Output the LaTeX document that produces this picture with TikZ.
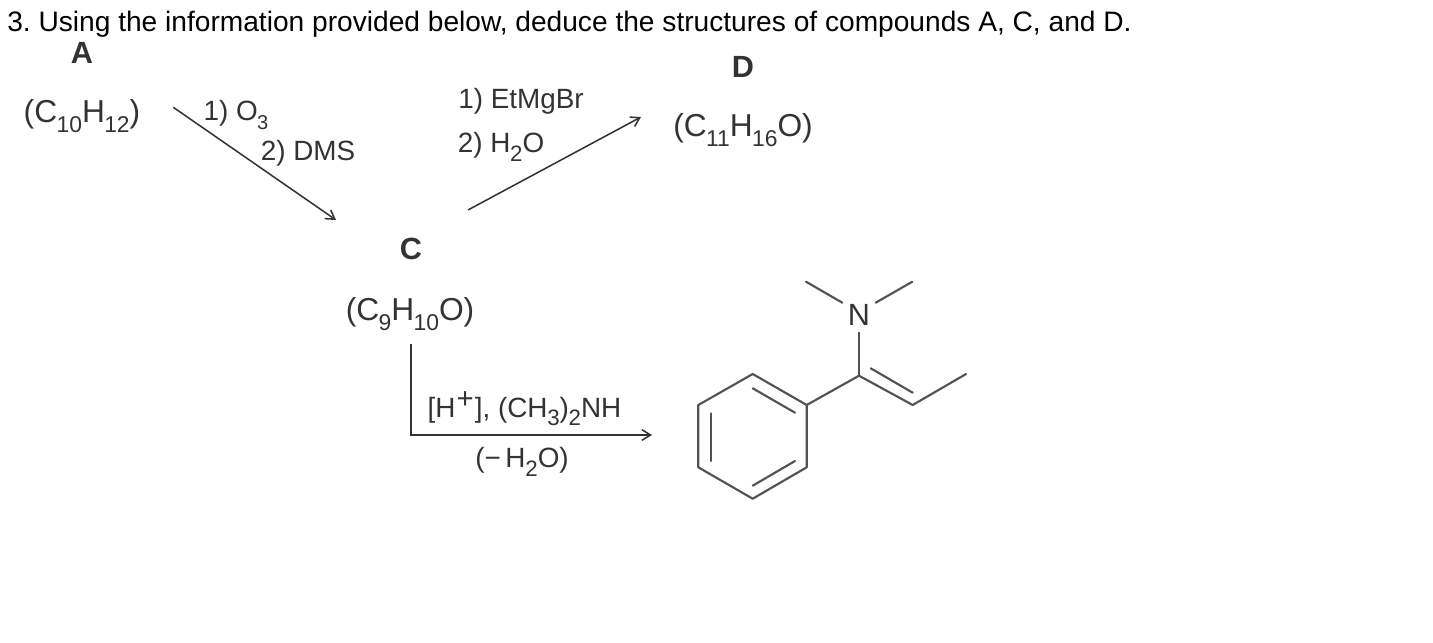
\documentclass[tikz,border=0pt]{standalone}
\usepackage{fontspec}
\setmainfont{Liberation Sans}
\usetikzlibrary{arrows.meta}
\definecolor{ink}{HTML}{333333}
\newcommand{\chemsub}[1]{\kern-0.02em\raisebox{-0.3em}{\scalebox{0.72}{#1}}}
\newcommand{\bigsub}[1]{\kern-0.01em\raisebox{-0.3em}{\scalebox{0.8}{#1}}}
\newcommand{\chemsup}[1]{\kern0.04em\raisebox{0.3em}{\scalebox{1.05}{#1}}\kern0.04em}
\tikzset{
  titletext/.style={anchor=base west,inner sep=0pt,text=black,font=\fontsize{21.1}{24}\selectfont},
  lab/.style={inner sep=0pt,text=ink,font=\fontsize{23.8}{26}\selectfont},
  reagent/.style={inner sep=0pt,text=ink,font=\fontsize{20.9}{24}\selectfont},
  letter/.style={inner sep=0pt,text=ink,font=\fontsize{23}{26}\selectfont\bfseries},
  rxn/.style={draw=ink,line width=1.15pt,-{Straight Barb[length=6.5pt,width=8pt,line width=1.15pt]}},
  bond/.style={draw=ink!85!white,line width=1.6pt,line cap=round,line join=round},
  atom/.style={inner sep=0pt,text=ink,font=\fontsize{23}{26}\selectfont},
}
\begin{document}
\begin{tikzpicture}[x=0.75pt,y=-0.75pt]
\useasboundingbox (0,0) rectangle (1433,642);
\node[titletext] (title) at (7,32) {\frenchspacing 3. Using the information provided below, deduce the structures of compounds A, C, and D.};
\node[letter] (la) at (82,53) {A};
\node[letter] (ld) at (743,67) {D};
\node[letter] (lc) at (411,249) {C};
\node[lab] (fa) at (82,116) {(C\chemsub{10}H\chemsub{12})};
\node[lab] (fd) at (743,130) {(C\chemsub{11}H\chemsub{16}O)};
\node[lab] (fc) at (410,314) {(C\chemsub{9}H\chemsub{10}O)};
\node[reagent] (r1) at (236,115) {1) O\chemsub{3}};
\node[reagent] (r2) at (308,153) {2) DMS};
\node[reagent] (r3) at (521,101) {1) EtMgBr};
\node[reagent] (r4) at (501,147) {2) H\bigsub{2}O};
\node[reagent] (r5) at (524.5,409) {[H\chemsup{+}], (CH\bigsub{3})\bigsub{2}NH};
\node[reagent] (r6) at (522,462) {(−\,H\bigsub{2}O)};
% arrows
\coordinate (a1) at (173.3,107.3);
\coordinate (a2) at (336,220);
\coordinate (d1) at (468,210);
\coordinate (d2) at (641,117);
\coordinate (c1) at (411,344);
\coordinate (c2) at (411,435);
\coordinate (c3) at (652,435);
\draw[rxn] (a1) -- (a2);
\draw[rxn] (d1) -- (d2);
\draw[rxn] (c1) -- (c2) -- (c3);
% molecule
\coordinate (b1) at (752.7,374);
\coordinate (b2) at (806.7,405);
\coordinate (b3) at (806.7,467.3);
\coordinate (b4) at (752.7,498.7);
\coordinate (b5) at (698.3,467.3);
\coordinate (b6) at (698.3,405);
\coordinate (i1) at (752.7,388.3);
\coordinate (i2) at (795,412.7);
\coordinate (i3) at (795,461);
\coordinate (i4) at (752.7,485.7);
\coordinate (i5) at (710.7,413.3);
\coordinate (i6) at (710.7,461);
\coordinate (cc) at (859,375.7);
\coordinate (cd) at (912.7,405);
\coordinate (ce) at (966,374);
\coordinate (j1) at (870.7,368.3);
\coordinate (j2) at (912.7,392.7);
\node[atom] (n) at (859,315) {N};
\coordinate (nb) at (859,332.7);
\coordinate (m1) at (806,281.7);
\coordinate (m1n) at (842.3,302.7);
\coordinate (m2) at (912.3,281.7);
\coordinate (m2n) at (875.7,302.7);
\draw[bond] (b1) -- (b2) -- (b3) -- (b4) -- (b5) -- (b6) -- cycle;
\draw[bond] (i1) -- (i2);
\draw[bond] (i3) -- (i4);
\draw[bond] (i5) -- (i6);
\draw[bond] (b2) -- (cc) -- (cd) -- (ce);
\draw[bond] (j1) -- (j2);
\draw[bond] (nb) -- (cc);
\draw[bond] (m1) -- (m1n);
\draw[bond] (m2) -- (m2n);
\end{tikzpicture}
\end{document}
